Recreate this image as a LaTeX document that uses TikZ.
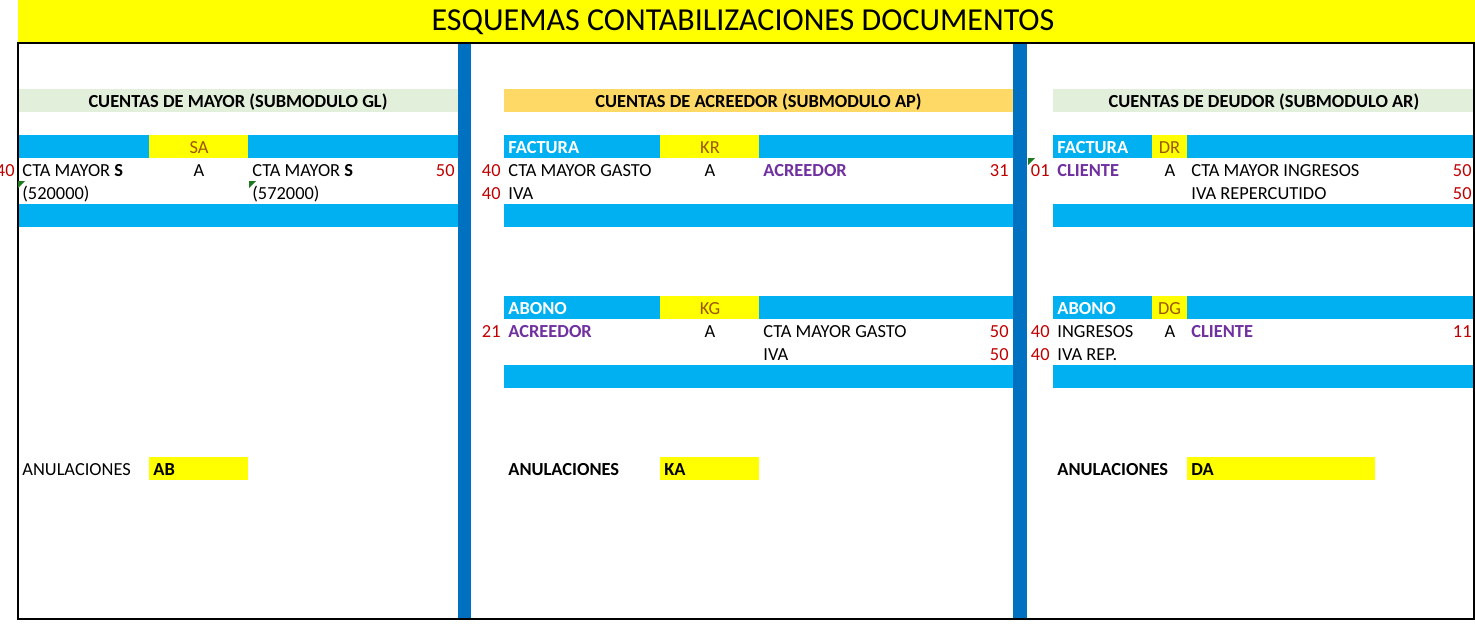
\documentclass[tikz,border=0pt]{standalone}
\usepackage{fontspec}
\setmainfont{Carlito}
\definecolor{ttlyellow}{HTML}{FFFF00}
\definecolor{bandblue}{HTML}{00B0F0}
\definecolor{divblue}{HTML}{0070C0}
\definecolor{hdrgreen}{HTML}{E2EFDA}
\definecolor{hdrorange}{HTML}{FFD966}
\definecolor{numred}{HTML}{C00000}
\definecolor{acpurple}{HTML}{7030A0}
\definecolor{codebrown}{HTML}{9C5700}
\definecolor{cmtgreen}{HTML}{1F7A1F}
\begin{document}
\begin{tikzpicture}[x=0.5pt,y=-0.5pt,
  txt/.style={inner sep=0pt,font=\fontsize{9.2}{11}\selectfont},
  bold/.style={inner sep=0pt,font=\fontsize{9.2}{11}\selectfont\bfseries},
  lt/.style={txt,anchor=base west},
  lb/.style={bold,anchor=base west},
  ct/.style={txt,anchor=base},
  num/.style={txt,anchor=base east,text=numred},
  code/.style={txt,anchor=base,text=codebrown},
  doc/.style={bold,anchor=base west,text=white},
  acc/.style={bold,anchor=base west,text=acpurple},
  hdr/.style={bold,anchor=base},
  band/.style={fill=bandblue},
  ycell/.style={fill=ttlyellow},
  cmt/.style={fill=cmtgreen}]
\useasboundingbox (0,0) rectangle (1475,637);
% title
\fill[ttlyellow] (18,0) rectangle (1475,43);
\node[inner sep=0pt,anchor=base,font=\fontsize{16}{18}\selectfont] (title) at (743,30) {ESQUEMAS CONTABILIZACIONES DOCUMENTOS};
% headers
\fill[hdrgreen] (18,89) rectangle (458,112);
\fill[hdrorange] (504,89) rectangle (1013,112);
\fill[hdrgreen] (1053,89) rectangle (1475,112);
% ---- panel GL
\fill[band] (18,135) rectangle (458,158);
\fill[ycell] (149,135) rectangle (248,158);
\fill[band] (18,204) rectangle (458,227);
\fill[ycell] (149,457) rectangle (248,480);
% ---- panel AP
\fill[band] (504,135) rectangle (1013,158);
\fill[ycell] (660,135) rectangle (759,158);
\fill[band] (504,204) rectangle (1013,227);
\fill[band] (504,296) rectangle (1013,319);
\fill[ycell] (660,296) rectangle (759,319);
\fill[band] (504,365) rectangle (1013,388);
\fill[ycell] (660,457) rectangle (759,480);
% ---- panel AR
\fill[band] (1053,135) rectangle (1475,158);
\fill[ycell] (1152,135) rectangle (1187,158);
\fill[band] (1053,204) rectangle (1475,227);
\fill[band] (1053,296) rectangle (1475,319);
\fill[ycell] (1152,296) rectangle (1187,319);
\fill[band] (1053,365) rectangle (1475,388);
\fill[ycell] (1187,457) rectangle (1375,480);
% dividers and frame
\fill[divblue] (458,43) rectangle (471,619);
\fill[divblue] (1013,43) rectangle (1027,619);
\draw[line width=1pt] (18,43) rectangle (1474,619);
% comment markers
\fill[cmt] (18,181) -- (25,181) -- (18,188) -- cycle;
\fill[cmt] (249,181) -- (256,181) -- (249,188) -- cycle;
\fill[cmt] (1028,158) -- (1035,158) -- (1028,165) -- cycle;
% header texts
\node[hdr] (hgl) at (238,107) {CUENTAS DE MAYOR (SUBMODULO GL)};
\node[hdr] (hap) at (758.5,107) {CUENTAS DE ACREEDOR (SUBMODULO AP)};
\node[hdr] (har) at (1264,107) {CUENTAS DE DEUDOR (SUBMODULO AR)};
% ---- GL texts
\node[code] (sa) at (199,153) {SA};
\node[num] (gl40) at (15,176) {40};
\node[lt] (gla) at (22,176) {CTA MAYOR \textbf{S}};
\node[ct] (glA) at (199,176) {A};
\node[lt] (glb) at (252,176) {CTA MAYOR \textbf{S}};
\node[num] (gl50) at (455,176) {50};
\node[lt] (gla2) at (22,199) {(520000)};
\node[lt] (glb2) at (252,199) {(572000)};
\node[lt] (glan) at (22,475) {ANULACIONES};
\node[lb] (ab) at (153,475) {AB};
% ---- AP texts
\node[doc] (apf) at (508,153) {FACTURA};
\node[code] (kr) at (710,153) {KR};
\node[num] (ap40a) at (501,176) {40};
\node[lt] (apg) at (508,176) {CTA MAYOR GASTO};
\node[ct] (apA) at (710,176) {A};
\node[acc] (apacr) at (763,176) {ACREEDOR};
\node[num] (ap31) at (1009,176) {31};
\node[num] (ap40b) at (501,199) {40};
\node[lt] (apiva) at (508,199) {IVA};
\node[doc] (apab) at (508,314) {ABONO};
\node[code] (kg) at (710,314) {KG};
\node[num] (ap21) at (501,337) {21};
\node[acc] (apacr2) at (508,337) {ACREEDOR};
\node[ct] (apA2) at (710,337) {A};
\node[lt] (apg2) at (763,337) {CTA MAYOR GASTO};
\node[num] (ap50a) at (1009,337) {50};
\node[lt] (apiva2) at (763,360) {IVA};
\node[num] (ap50b) at (1009,360) {50};
\node[lb] (apan) at (508,475) {ANULACIONES};
\node[lb] (ka) at (664,475) {KA};
% ---- AR texts
\node[doc] (arf) at (1057,153) {FACTURA};
\node[code] (dr) at (1169.5,153) {DR};
\node[num] (ar01) at (1050,176) {01};
\node[acc] (arcl) at (1057,176) {CLIENTE};
\node[ct] (arA) at (1170,176) {A};
\node[lt] (aring) at (1191,176) {CTA MAYOR INGRESOS};
\node[num] (ar50a) at (1472,176) {50};
\node[lt] (ariva) at (1191,199) {IVA REPERCUTIDO};
\node[num] (ar50b) at (1472,199) {50};
\node[doc] (arab) at (1057,314) {ABONO};
\node[code] (dg) at (1169.5,314) {DG};
\node[num] (ar40a) at (1050,337) {40};
\node[lt] (aring2) at (1057,337) {INGRESOS};
\node[ct] (arA2) at (1170,337) {A};
\node[acc] (arcl2) at (1191,337) {CLIENTE};
\node[num] (ar11) at (1472,337) {11};
\node[num] (ar40b) at (1050,360) {40};
\node[lt] (arivar) at (1057,360) {IVA REP.};
\node[lb] (aran) at (1057,475) {ANULACIONES};
\node[lb] (da) at (1191,475) {DA};
\end{tikzpicture}
\end{document}
